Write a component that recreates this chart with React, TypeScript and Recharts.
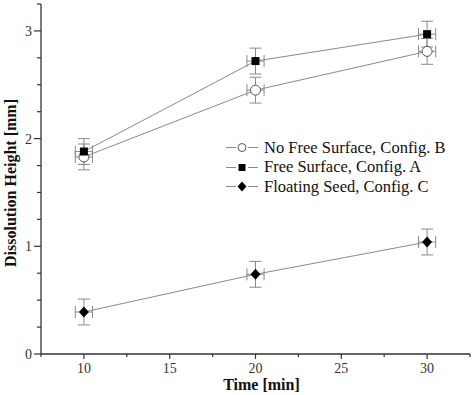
import React from "react";
import { ComposedChart, Scatter, XAxis, YAxis, ErrorBar } from "recharts";

const times = [10, 20, 30];
const noFreeSurfaceB = [1.83, 2.45, 2.81];
const freeSurfaceA = [1.88, 2.72, 2.97];
const floatingSeedC = [0.39, 0.74, 1.04];
const yErrB = [0.12, 0.12, 0.12];
const yErrA = [0.12, 0.12, 0.12];
const yErrC = [0.12, 0.12, 0.12];
const xErr = [0.5, 0.5, 0.5];

const seriesNames = ["No Free Surface, Config. B", "Free Surface, Config. A", "Floating Seed, Config. C"];

const xTicks = [7.5, 10, 12.5, 15, 17.5, 20, 22.5, 25, 27.5, 30, 32.5];
const xLabelTicks = [10, 15, 20, 25, 30];
const yTicks = [0, 0.25, 0.5, 0.75, 1, 1.25, 1.5, 1.75, 2, 2.25, 2.5, 2.75, 3, 3.25];
const yLabelTicks = [0, 1, 2, 3];

const build = (ys: number[], ye: number[]) =>
  times.map((t, i) => ({ x: t, y: ys[i], ex: xErr[i], ey: ye[i] }));

const dataB = build(noFreeSurfaceB, yErrB);
const dataA = build(freeSurfaceA, yErrA);
const dataC = build(floatingSeedC, yErrC);

const FONT = '"Liberation Serif", "Times New Roman", Times, serif';
const AXIS = "#333";
const LINE = "#8a8a8a";

const CircleShape = (p: any) => (
  <circle cx={p.cx} cy={p.cy} r={5} fill="#fff" stroke="#555" strokeWidth={1} />
);
const SquareShape = (p: any) => (
  <rect x={p.cx - 4} y={p.cy - 4} width={8} height={8} fill="#000" />
);
const DiamondShape = (p: any) => (
  <polygon
    points={`${p.cx},${p.cy - 5.5} ${p.cx + 5},${p.cy} ${p.cx},${p.cy + 5.5} ${p.cx - 5},${p.cy}`}
    fill="#000"
  />
);

const XTick = (p: any) => {
  const v = p.payload.value;
  const major = xLabelTicks.includes(v);
  return (
    <g>
      <line x1={p.x} x2={p.x} y1={p.y} y2={p.y + (major ? 5 : 3)} stroke={AXIS} strokeWidth={1.2} />
      {major && (
        <text x={p.x} y={p.y + 19} textAnchor="middle" style={{ fontFamily: FONT }} fontSize={14} fill="#333">
          {v}
        </text>
      )}
    </g>
  );
};

const YTick = (p: any) => {
  const v = p.payload.value;
  const major = yLabelTicks.includes(v);
  return (
    <g>
      <line x1={p.x - (major ? 7 : 4)} x2={p.x} y1={p.y} y2={p.y} stroke={AXIS} strokeWidth={1.2} />
      {major && (
        <text x={p.x - 9} y={p.y + 5} textAnchor="end" style={{ fontFamily: FONT }} fontSize={14} fill="#333">
          {v}
        </text>
      )}
    </g>
  );
};

const YLabel = (p: any) => {
  const vb = p.viewBox;
  const cx = vb.x + 10;
  const cy = vb.y + vb.height / 2 + 4;
  return (
    <text
      x={cx}
      y={cy}
      transform={`rotate(-90 ${cx} ${cy})`}
      textAnchor="middle"
      dominantBaseline="central"
      style={{ fontFamily: FONT }}
      fontWeight="bold"
      fontSize={16}
      fill="#111"
    >
      Dissolution Height [mm]
    </text>
  );
};

const XLabel = (p: any) => {
  const vb = p.viewBox;
  const cx = vb.x + vb.width / 2 + 6;
  return (
    <text x={cx} y={vb.y + 36} textAnchor="middle" style={{ fontFamily: FONT }} fontWeight="bold" fontSize={16} fill="#111">
      Time [min]
    </text>
  );
};

const legendMarkers = [
  (cx: number, cy: number) => <circle cx={cx} cy={cy} r={4} fill="#fff" stroke="#555" />,
  (cx: number, cy: number) => <rect x={cx - 3.5} y={cy - 3.5} width={7} height={7} fill="#000" />,
  (cx: number, cy: number) => (
    <polygon points={`${cx},${cy - 5} ${cx + 4.5},${cy} ${cx},${cy + 5} ${cx - 4.5},${cy}`} fill="#000" />
  ),
];

const LegendBox = () => (
  <div style={{ position: "absolute", left: 226, top: 138, fontFamily: FONT, fontSize: 16.5, color: "#111" }}>
    {seriesNames.map((name, i) => (
      <div key={name} style={{ display: "flex", alignItems: "center", height: 19.5, whiteSpace: "nowrap" }}>
        <svg width={38} height={19} style={{ display: "block" }}>
          <line x1={0} x2={10} y1={9.5} y2={9.5} stroke={LINE} />
          <line x1={22} x2={32} y1={9.5} y2={9.5} stroke={LINE} />
          {legendMarkers[i](16, 9.5)}
        </svg>
        <span style={{ fontFamily: FONT }}>{name}</span>
      </div>
    ))}
  </div>
);

export default function App() {
  return (
    <div style={{ position: "absolute", left: 0, top: 0, width: 474, height: 395, background: "#fff" }}>
      <ComposedChart width={474} height={395} margin={{ top: 4, right: 4, left: 0, bottom: 0 }}>
        <XAxis
          type="number"
          dataKey="x"
          domain={[7.5, 32.5]}
          ticks={xTicks}
          interval={0}
          tickSize={0}
          tickMargin={0}
          tickLine={false}
          tick={<XTick />}
          height={41}
          stroke={AXIS}
          strokeWidth={1.3}
          allowDataOverflow
          label={<XLabel />}
        />
        <YAxis
          type="number"
          dataKey="y"
          domain={[0, 3.25]}
          ticks={yTicks}
          interval={0}
          tickSize={0}
          tickMargin={0}
          tickLine={false}
          tick={<YTick />}
          width={41}
          stroke={AXIS}
          strokeWidth={1.3}
          allowDataOverflow
          label={<YLabel />}
        />
        <Scatter
          name={seriesNames[0]}
          data={dataB}
          line={{ stroke: LINE, strokeWidth: 1 }}
          lineType="joint"
          shape={<CircleShape />}
          isAnimationActive={false}
        >
          <ErrorBar dataKey="ey" direction="y" width={6} stroke={LINE} strokeWidth={1} />
          <ErrorBar dataKey="ex" direction="x" width={6} stroke={LINE} strokeWidth={1} />
        </Scatter>
        <Scatter
          name={seriesNames[1]}
          data={dataA}
          line={{ stroke: LINE, strokeWidth: 1 }}
          lineType="joint"
          shape={<SquareShape />}
          isAnimationActive={false}
        >
          <ErrorBar dataKey="ey" direction="y" width={6} stroke={LINE} strokeWidth={1} />
          <ErrorBar dataKey="ex" direction="x" width={6} stroke={LINE} strokeWidth={1} />
        </Scatter>
        <Scatter
          name={seriesNames[2]}
          data={dataC}
          line={{ stroke: LINE, strokeWidth: 1 }}
          lineType="joint"
          shape={<DiamondShape />}
          isAnimationActive={false}
        >
          <ErrorBar dataKey="ey" direction="y" width={6} stroke={LINE} strokeWidth={1} />
          <ErrorBar dataKey="ex" direction="x" width={6} stroke={LINE} strokeWidth={1} />
        </Scatter>
      </ComposedChart>
      <LegendBox />
    </div>
  );
}
